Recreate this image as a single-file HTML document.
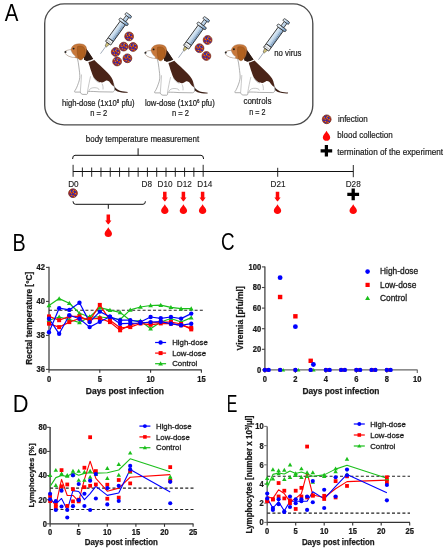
<!DOCTYPE html>
<html><head><meta charset="utf-8"><style>
html,body{margin:0;padding:0;background:#fff;}
svg{display:block;}
</style></head><body>
<svg width="445" height="550" viewBox="0 0 445 550">
<rect width="445" height="550" fill="#fff"/>
<defs><g id="vir">
<circle r="4.4" fill="#b82a1e" stroke="#6a2a18" stroke-width="0.7"/>
<circle cx="-1.5" cy="-2.1" r="1.1" fill="#2a2ab8"/><circle cx="1.9" cy="-1.3" r="1.1" fill="#2a2ab8"/>
<circle cx="-0.1" cy="1.1" r="1.1" fill="#2a2ab8"/><circle cx="-2.7" cy="0.9" r="0.9" fill="#2a2ab8"/>
<circle cx="2.4" cy="2.1" r="0.9" fill="#2a2ab8"/><circle cx="0.3" cy="-3.5" r="0.7" fill="#2a2ab8"/>
<circle cx="-1.3" cy="3.2" r="0.8" fill="#2a2ab8"/>
<path d="M-0.4 -1.7 l1.3 1 M-2.4 -0.7 l1 1 M0.9 2.6 l1 1 M2.1 0.2 l1.2 0.6 M-3 -2.4 l0.9 0.7 M0.2 -2.6 l1 -0.6 M-0.6 2.4 l-1 -0.2 M3 -2 l-0.6 -0.6" stroke="#dcaa2a" stroke-width="0.95"/>
</g><linearGradient id="sg" x1="0" y1="-3.2" x2="0" y2="3.2" gradientUnits="userSpaceOnUse"><stop offset="0" stop-color="#e6f0f8"/><stop offset="0.45" stop-color="#c4d9ec"/><stop offset="1" stop-color="#7fa3c8"/></linearGradient>
<g id="syr">
<line x1="0" y1="0" x2="9.5" y2="0" stroke="#8f9cad" stroke-width="0.75"/>
<path d="M9 -0.8 L13 -1.7 L13 1.7 L9 0.8 Z" fill="#d6c77a" stroke="#444" stroke-width="0.5"/>
<rect x="13" y="-3.2" width="4.5" height="6.4" fill="#eef1f4" stroke="#222" stroke-width="0.8"/>
<line x1="14.8" y1="-3" x2="14.8" y2="3" stroke="#888" stroke-width="0.5"/>
<rect x="17.5" y="-3.2" width="20.5" height="6.4" fill="url(#sg)" stroke="#222" stroke-width="0.8"/>
<path d="M20 3 v-1.8 M22 3 v-1.8 M24 3 v-1.8 M26 3 v-1.8 M28 3 v-1.8 M30 3 v-1.8 M32 3 v-1.8 M34 3 v-1.8" stroke="#556677" stroke-width="0.45"/>
<rect x="38" y="-5.3" width="2.7" height="10.6" rx="1.2" fill="url(#sg)" stroke="#222" stroke-width="0.7"/>
<rect x="40.7" y="-1.7" width="5.5" height="3.4" fill="url(#sg)" stroke="#222" stroke-width="0.7"/>
<rect x="46" y="-3.5" width="2.6" height="7" rx="1.1" fill="url(#sg)" stroke="#222" stroke-width="0.7"/>
</g><g id="dog">
<path d="M112.6 83 C114.5 87 116.5 89.5 120 90.8 C123 91.6 125.5 91.5 127.8 92 L127.5 92.8 C124 92.9 120.5 92.6 117.5 91.5 C114.5 90 112.5 88 111.5 85.5 Z" fill="#3a1e14"/>
<path d="M77.2 57.5 C78 61 78.7 64 78.9 67 C79.4 71 80 75 79.8 77.4 C79.5 80 78.8 82 78.2 83.6 C77.4 86 76.3 88.5 75.4 90 C74.6 90.8 74.3 91.6 74.8 92.1 L80.3 92.1 C80.8 93.5 81.5 94.3 83 94.4 L86.8 94.4 C87.6 94 87.8 93 87.5 92 L88.5 91.5 C91 91.3 95 91.5 99 91.8 L112.5 92 C114 91.8 114.8 90.6 114.6 89 C114.5 87 114.2 85.5 113.6 83.7 L88 56 C85 57 81 57.8 77.2 57.5 Z" fill="#fff" stroke="#8c8c8c" stroke-width="0.7"/>
<path d="M84.5 46.8 C87 49.5 89.5 53.5 92.8 58.5 C96 62 99.7 64.9 103 68.3 C106.6 71.8 109.5 74.5 111.6 77.7 C113 80 113.6 82 114 86.5 C112.5 86 111 84 109.2 81.5 C108 80.6 107 80.3 106.1 80.5 C104.5 81.5 103.5 82.4 102 82.5 C100 82.4 99 82 97.9 81.5 C96 80 94.7 78.7 93.7 77.4 C92.8 75.5 92 74 91.6 72.2 C90.8 70 90 68 89.6 66 C89 64.5 88.5 63 88.3 61.5 C86.5 60.5 85 60 84 59.8 Z" fill="#4a2418"/>
<path d="M84.5 46.8 C87 49.5 89.5 53.5 93.2 59 L87.8 61.3 C86 60.8 84.8 60 84 59.5 C84 55 84 51 84.5 46.8 Z" fill="#2e1a12"/>
<path d="M87.3 61.7 Q90.5 61.2 94 59.4" fill="none" stroke="#fff" stroke-width="1.3"/>
<path d="M81.5 74.5 C81.2 80 80.8 86 80.3 92 M90.6 76.3 C89.5 81 88.3 86.5 87.5 91.9 M88.8 91 C89.5 88.5 92 87.5 95 87.7 C97.5 87.9 99 88.5 99 89.8 M93.7 77.4 C95 80 97 82 99.5 82.6 M102 83.6 C103 85.5 103.2 87.5 103 89.5" fill="none" stroke="#9a9a9a" stroke-width="0.55"/>
<path d="M65 51.6 C66 50.5 68.5 49.9 71 49.7 C71.4 47.6 72.5 45.8 74.5 44.8 C77 43.6 80.5 43.5 83 44.3 C85 45 86.3 46.5 86.5 48.5 C86.6 51.5 85.8 55 84.5 57 L80 58.5 C78 58.3 76 57.8 74 57.3 C71 57.2 68.5 56.2 66.5 54.8 C65.5 53.8 64.8 52.8 65 51.6 Z" fill="#c8783a" stroke="#8a5228" stroke-width="0.35"/>
<path d="M65 51.6 C66 50.6 68.5 50 70.8 49.8 C71.6 52.2 72.8 54.4 75.2 56 C75.6 56.8 75 57.4 74 57.4 C71 57.3 68.5 56.2 66.5 54.8 C65.5 53.8 64.8 52.8 65 51.6 Z" fill="#fff" stroke="#a0a0a0" stroke-width="0.4"/>
<path d="M77.6 46.4 C80.5 45.6 84 46.2 84.9 49.6 C85.5 53 84.5 57 82.4 59.3 C81 60.5 79.3 60.3 78.4 58.6 C77.5 55.8 77.2 52.3 77.2 49.3 Z" fill="#b0611f" stroke="#7a4418" stroke-width="0.35"/>
<circle cx="65.5" cy="52" r="1.0" fill="#222"/>
<circle cx="73.6" cy="48.6" r="0.95" fill="#1a1a1a"/>
</g><path id="drop" d="M0 -5 C1 -2.5 3.5 -0.8 3.5 1.6 C3.5 3.6 1.9 5 0 5 C-1.9 5 -3.5 3.6 -3.5 1.6 C-3.5 -0.8 -1 -2.5 0 -5 Z" fill="#ff0808"/><path id="arr" d="M-1.75 -4.85 H1.75 V1.1 H3.1 L0.4 4.85 H-0.4 L-3.1 1.1 H-1.75 Z" fill="#ff0808"/><path id="plus" d="M-1.65 -5.8 H1.65 V-1.65 H5.9 V1.65 H1.65 V5.8 H-1.65 V1.65 H-5.9 V-1.65 H-1.65 Z" fill="#000"/></defs>
<text x="0" y="0" transform="translate(4.7,21.0) scale(0.87,1)" font-family='"Liberation Sans", Arial, sans-serif' font-size="23.5" fill="#000">A</text>
<rect x="44.7" y="3.9" width="268.1" height="120.9" rx="19.5" ry="19.5" fill="none" stroke="#4a4a4a" stroke-width="1.35"/>
<use href="#dog"/>
<use href="#dog" transform="translate(80,0.8)"/>
<use href="#dog" transform="translate(160.3,0.6)"/>
<use href="#syr" transform="translate(100.5,53.7) rotate(-54)"/>
<use href="#syr" transform="translate(178.5,57.7) rotate(-54)"/>
<use href="#syr" transform="translate(258.5,59.7) rotate(-54)"/>
<use href="#vir" transform="translate(129.1,36.4)"/>
<use href="#vir" transform="translate(123.7,46.6)"/>
<use href="#vir" transform="translate(133.1,47)"/>
<use href="#vir" transform="translate(115.7,52)"/>
<use href="#vir" transform="translate(127.4,58.3)"/>
<use href="#vir" transform="translate(117.1,61.5)"/>
<use href="#vir" transform="translate(207.6,40)"/>
<use href="#vir" transform="translate(199.5,48.2)"/>
<use href="#vir" transform="translate(206.4,56)"/>
<text x="62.0" y="105.8" font-size="8.8" text-anchor="start" font-family='"Liberation Sans", Arial, sans-serif' fill="#1a1a1a" stroke="#1a1a1a" stroke-width="0.2" textLength="72.6" lengthAdjust="spacingAndGlyphs" >high-dose (1x10<tspan font-size="5" dy="-3">8</tspan><tspan dy="3"> pfu)</tspan></text>
<text x="90.2" y="115.9" font-size="8.8" text-anchor="start" font-family='"Liberation Sans", Arial, sans-serif' fill="#1a1a1a" stroke="#1a1a1a" stroke-width="0.2" textLength="17.0" lengthAdjust="spacingAndGlyphs" >n = 2</text>
<text x="144.9" y="105.9" font-size="8.8" text-anchor="start" font-family='"Liberation Sans", Arial, sans-serif' fill="#1a1a1a" stroke="#1a1a1a" stroke-width="0.2" textLength="69.8" lengthAdjust="spacingAndGlyphs" >low-dose (1x10<tspan font-size="5" dy="-3">6</tspan><tspan dy="3"> pfu)</tspan></text>
<text x="172.0" y="116.1" font-size="8.8" text-anchor="start" font-family='"Liberation Sans", Arial, sans-serif' fill="#1a1a1a" stroke="#1a1a1a" stroke-width="0.2" textLength="17.0" lengthAdjust="spacingAndGlyphs" >n = 2</text>
<text x="243.4" y="104.3" font-size="8.8" text-anchor="start" font-family='"Liberation Sans", Arial, sans-serif' fill="#1a1a1a" stroke="#1a1a1a" stroke-width="0.2" textLength="28.0" lengthAdjust="spacingAndGlyphs" >controls</text>
<text x="249.3" y="114.5" font-size="8.8" text-anchor="start" font-family='"Liberation Sans", Arial, sans-serif' fill="#1a1a1a" stroke="#1a1a1a" stroke-width="0.2" textLength="16.2" lengthAdjust="spacingAndGlyphs" >n = 2</text>
<text x="274.3" y="56.3" font-size="8.8" text-anchor="start" font-family='"Liberation Sans", Arial, sans-serif' fill="#1a1a1a" stroke="#1a1a1a" stroke-width="0.2" textLength="27.2" lengthAdjust="spacingAndGlyphs" >no virus</text>
<use href="#vir" transform="translate(326.7,119.3)"/>
<text x="337.9" y="121.7" font-size="8.8" text-anchor="start" font-family='"Liberation Sans", Arial, sans-serif' fill="#1a1a1a" stroke="#1a1a1a" stroke-width="0.2" textLength="29.9" lengthAdjust="spacingAndGlyphs" >infection</text>
<use href="#drop" transform="translate(326.5,135.8) scale(1.06,1.0)"/>
<text x="337.3" y="138.3" font-size="8.8" text-anchor="start" font-family='"Liberation Sans", Arial, sans-serif' fill="#1a1a1a" stroke="#1a1a1a" stroke-width="0.2" textLength="55.4" lengthAdjust="spacingAndGlyphs" >blood collection</text>
<use href="#plus" transform="translate(326.4,150.8) scale(0.98)"/>
<text x="337.3" y="154.8" font-size="8.8" text-anchor="start" font-family='"Liberation Sans", Arial, sans-serif' fill="#1a1a1a" stroke="#1a1a1a" stroke-width="0.2" textLength="105.8" lengthAdjust="spacingAndGlyphs" >termination of the experiment</text>
<text x="85.8" y="142.4" font-size="8.9" text-anchor="start" font-family='"Liberation Sans", Arial, sans-serif' fill="#1a1a1a" stroke="#1a1a1a" stroke-width="0.2" textLength="113.3" lengthAdjust="spacingAndGlyphs" >body temperature measurement</text>
<path d="M72.6 159 Q72.6 155.3 75 155.3 H201 Q203.6 155.3 203.6 159 M138.1 155.3 V148.3" fill="none" stroke="#111" stroke-width="1"/>
<line x1="73.1" y1="171.4" x2="353.3" y2="171.4" stroke="#111" stroke-width="1.05"/>
<path d="M73.10 164.8 V176.8 M82.39 167.5 V176.8 M91.68 167.5 V176.8 M100.97 167.5 V176.8 M110.26 167.5 V176.8 M119.55 167.5 V176.8 M128.84 167.5 V176.8 M138.13 167.5 V176.8 M147.42 167.5 V176.8 M156.71 167.5 V176.8 M166.00 167.5 V176.8 M175.29 167.5 V176.8 M184.58 167.5 V176.8 M193.87 167.5 V176.8 M203.16 164.8 V176.8 M277.7 167.8 V176.8 M353.3 165.0 V177.2" stroke="#111" stroke-width="0.9" fill="none"/>
<text x="73.4" y="186.8" font-size="8.2" text-anchor="middle" font-family='"Liberation Sans", Arial, sans-serif' fill="#1a1a1a" stroke="#1a1a1a" stroke-width="0.12" >D0</text>
<text x="146.8" y="186.8" font-size="8.2" text-anchor="middle" font-family='"Liberation Sans", Arial, sans-serif' fill="#1a1a1a" stroke="#1a1a1a" stroke-width="0.12" >D8</text>
<text x="165" y="186.8" font-size="8.2" text-anchor="middle" font-family='"Liberation Sans", Arial, sans-serif' fill="#1a1a1a" stroke="#1a1a1a" stroke-width="0.12" >D10</text>
<text x="184.3" y="186.8" font-size="8.2" text-anchor="middle" font-family='"Liberation Sans", Arial, sans-serif' fill="#1a1a1a" stroke="#1a1a1a" stroke-width="0.12" >D12</text>
<text x="204.8" y="186.8" font-size="8.2" text-anchor="middle" font-family='"Liberation Sans", Arial, sans-serif' fill="#1a1a1a" stroke="#1a1a1a" stroke-width="0.12" >D14</text>
<text x="278" y="186.8" font-size="8.2" text-anchor="middle" font-family='"Liberation Sans", Arial, sans-serif' fill="#1a1a1a" stroke="#1a1a1a" stroke-width="0.12" >D21</text>
<text x="353.2" y="186.8" font-size="8.2" text-anchor="middle" font-family='"Liberation Sans", Arial, sans-serif' fill="#1a1a1a" stroke="#1a1a1a" stroke-width="0.12" >D28</text>
<use href="#vir" transform="translate(73,193.2)"/>
<path d="M73 201.3 Q73 204.3 75.5 204.3 H143 Q145.4 204.3 145.4 201.3 M108.3 204.3 V208.8" fill="none" stroke="#111" stroke-width="1"/>
<use href="#arr" transform="translate(108.3,219.3)"/>
<use href="#drop" transform="translate(108.3,232.2) scale(1.06,0.98)"/>
<use href="#arr" transform="translate(164.8,196.5)"/>
<use href="#drop" transform="translate(164.8,209.1) scale(1.06,0.96)"/>
<use href="#arr" transform="translate(183.4,196.5)"/>
<use href="#drop" transform="translate(183.4,209.1) scale(1.06,0.96)"/>
<use href="#arr" transform="translate(202.6,196.5)"/>
<use href="#drop" transform="translate(202.6,209.1) scale(1.06,0.96)"/>
<use href="#arr" transform="translate(277.5,196.5)"/>
<use href="#drop" transform="translate(277.5,209.1) scale(1.06,0.96)"/>
<use href="#plus" transform="translate(353.2,194.4)"/>
<use href="#drop" transform="translate(353.2,209.1) scale(1.06,0.96)"/>
<text x="0" y="0" transform="translate(12.5,251.0) scale(0.86,1)" font-family='"Liberation Sans", Arial, sans-serif' font-size="23" fill="#000">B</text>
<line x1="49.0" y1="266.8" x2="49.0" y2="369.8" stroke="#444" stroke-width="1.3"/>
<line x1="46.0" y1="267.40" x2="49.0" y2="267.40" stroke="#444" stroke-width="1.1"/>
<text x="0" y="0" transform="translate(45.00,270.30) scale(0.9,1)" font-size="8.4" font-weight="bold" text-anchor="end" font-family='"Liberation Sans", Arial, sans-serif' fill="#1a1a1a" stroke="#1a1a1a" stroke-width="0.25" >42</text>
<line x1="46.0" y1="301.40" x2="49.0" y2="301.40" stroke="#444" stroke-width="1.1"/>
<text x="0" y="0" transform="translate(45.00,304.30) scale(0.9,1)" font-size="8.4" font-weight="bold" text-anchor="end" font-family='"Liberation Sans", Arial, sans-serif' fill="#1a1a1a" stroke="#1a1a1a" stroke-width="0.25" >40</text>
<line x1="46.0" y1="335.40" x2="49.0" y2="335.40" stroke="#444" stroke-width="1.1"/>
<text x="0" y="0" transform="translate(45.00,338.30) scale(0.9,1)" font-size="8.4" font-weight="bold" text-anchor="end" font-family='"Liberation Sans", Arial, sans-serif' fill="#1a1a1a" stroke="#1a1a1a" stroke-width="0.25" >38</text>
<line x1="46.0" y1="369.40" x2="49.0" y2="369.40" stroke="#444" stroke-width="1.1"/>
<text x="0" y="0" transform="translate(45.00,372.30) scale(0.9,1)" font-size="8.4" font-weight="bold" text-anchor="end" font-family='"Liberation Sans", Arial, sans-serif' fill="#1a1a1a" stroke="#1a1a1a" stroke-width="0.25" >36</text>
<line x1="49.0" y1="369.8" x2="201.6" y2="369.8" stroke="#333" stroke-width="1.3"/>
<line x1="49.00" y1="369.8" x2="49.00" y2="372.8" stroke="#333" stroke-width="1.1"/>
<text x="0" y="0" transform="translate(49.00,382.20) scale(0.9,1)" font-size="8.4" font-weight="bold" text-anchor="middle" font-family='"Liberation Sans", Arial, sans-serif' fill="#1a1a1a" stroke="#1a1a1a" stroke-width="0.25" >0</text>
<line x1="99.80" y1="369.8" x2="99.80" y2="372.8" stroke="#333" stroke-width="1.1"/>
<text x="0" y="0" transform="translate(99.80,382.20) scale(0.9,1)" font-size="8.4" font-weight="bold" text-anchor="middle" font-family='"Liberation Sans", Arial, sans-serif' fill="#1a1a1a" stroke="#1a1a1a" stroke-width="0.25" >5</text>
<line x1="150.60" y1="369.8" x2="150.60" y2="372.8" stroke="#333" stroke-width="1.1"/>
<text x="0" y="0" transform="translate(150.60,382.20) scale(0.9,1)" font-size="8.4" font-weight="bold" text-anchor="middle" font-family='"Liberation Sans", Arial, sans-serif' fill="#1a1a1a" stroke="#1a1a1a" stroke-width="0.25" >10</text>
<line x1="201.40" y1="369.8" x2="201.40" y2="372.8" stroke="#333" stroke-width="1.1"/>
<text x="0" y="0" transform="translate(201.40,382.20) scale(0.9,1)" font-size="8.4" font-weight="bold" text-anchor="middle" font-family='"Liberation Sans", Arial, sans-serif' fill="#1a1a1a" stroke="#1a1a1a" stroke-width="0.25" >15</text>
<line x1="49.0" y1="310.2" x2="203" y2="310.2" stroke="#222" stroke-width="1.1" stroke-dasharray="3,2.2"/>
<polyline points="49.00,305.40 59.16,298.60 69.32,303.20 79.48,313.30 89.64,317.00 99.80,307.60 109.96,310.10 120.12,312.40 130.28,320.50 140.44,320.80 150.60,328.80 160.76,322.00 170.92,318.50 181.08,322.00 191.24,317.60" fill="none" stroke="#1bbf1b" stroke-width="1.2" stroke-linejoin="round"/>
<polyline points="49.00,320.20 59.16,317.00 69.32,319.60 79.48,322.50 89.64,317.00 99.80,317.00 109.96,318.00 120.12,319.50 130.28,309.90 140.44,307.00 150.60,305.50 160.76,305.10 170.92,307.30 181.08,308.60 191.24,308.60" fill="none" stroke="#1bbf1b" stroke-width="1.2" stroke-linejoin="round"/>
<polyline points="49.00,316.40 59.16,320.20 69.32,316.40 79.48,316.40 89.64,320.80 99.80,304.90 109.96,320.20 120.12,327.80 130.28,327.10 140.44,323.50 150.60,324.80 160.76,323.40 170.92,323.70 181.08,325.30 191.24,327.80" fill="none" stroke="#ff0000" stroke-width="1.2" stroke-linejoin="round"/>
<polyline points="49.00,323.70 59.16,327.10 69.32,322.10 79.48,318.50 89.64,319.00 99.80,318.30 109.96,322.10 120.12,330.30 130.28,325.00 140.44,322.50 150.60,323.00 160.76,322.00 170.92,322.00 181.08,324.00 191.24,329.40" fill="none" stroke="#ff0000" stroke-width="1.2" stroke-linejoin="round"/>
<polyline points="49.00,332.20 59.16,308.20 69.32,309.90 79.48,302.80 89.64,322.10 99.80,311.60 109.96,316.70 120.12,320.20 130.28,320.20 140.44,322.00 150.60,317.00 160.76,318.30 170.92,317.00 181.08,318.60 191.24,313.60" fill="none" stroke="#0000ff" stroke-width="1.2" stroke-linejoin="round"/>
<polyline points="49.00,318.70 59.16,333.80 69.32,315.20 79.48,318.70 89.64,327.10 99.80,321.70 109.96,316.70 120.12,323.70 130.28,323.40 140.44,323.00 150.60,322.10 160.76,321.70 170.92,323.70 181.08,325.30 191.24,323.70" fill="none" stroke="#0000ff" stroke-width="1.2" stroke-linejoin="round"/>
<path d="M49.00 303.02 L51.38 307.18 L46.62 307.18 Z" fill="#1bbf1b"/>
<path d="M59.16 296.23 L61.53 300.38 L56.78 300.38 Z" fill="#1bbf1b"/>
<path d="M69.32 300.82 L71.69 304.98 L66.94 304.98 Z" fill="#1bbf1b"/>
<path d="M79.48 310.93 L81.86 315.08 L77.11 315.08 Z" fill="#1bbf1b"/>
<path d="M89.64 314.62 L92.02 318.78 L87.27 318.78 Z" fill="#1bbf1b"/>
<path d="M99.80 305.23 L102.17 309.38 L97.42 309.38 Z" fill="#1bbf1b"/>
<path d="M109.96 307.73 L112.34 311.88 L107.59 311.88 Z" fill="#1bbf1b"/>
<path d="M120.12 310.02 L122.50 314.18 L117.75 314.18 Z" fill="#1bbf1b"/>
<path d="M130.28 318.12 L132.66 322.28 L127.91 322.28 Z" fill="#1bbf1b"/>
<path d="M140.44 318.43 L142.81 322.58 L138.06 322.58 Z" fill="#1bbf1b"/>
<path d="M150.60 326.43 L152.97 330.58 L148.22 330.58 Z" fill="#1bbf1b"/>
<path d="M160.76 319.62 L163.13 323.78 L158.38 323.78 Z" fill="#1bbf1b"/>
<path d="M170.92 316.12 L173.30 320.28 L168.55 320.28 Z" fill="#1bbf1b"/>
<path d="M181.08 319.62 L183.46 323.78 L178.71 323.78 Z" fill="#1bbf1b"/>
<path d="M191.24 315.23 L193.62 319.38 L188.87 319.38 Z" fill="#1bbf1b"/>
<path d="M49.00 317.82 L51.38 321.98 L46.62 321.98 Z" fill="#1bbf1b"/>
<path d="M59.16 314.62 L61.53 318.78 L56.78 318.78 Z" fill="#1bbf1b"/>
<path d="M69.32 317.23 L71.69 321.38 L66.94 321.38 Z" fill="#1bbf1b"/>
<path d="M79.48 320.12 L81.86 324.28 L77.11 324.28 Z" fill="#1bbf1b"/>
<path d="M89.64 314.62 L92.02 318.78 L87.27 318.78 Z" fill="#1bbf1b"/>
<path d="M99.80 314.62 L102.17 318.78 L97.42 318.78 Z" fill="#1bbf1b"/>
<path d="M109.96 315.62 L112.34 319.78 L107.59 319.78 Z" fill="#1bbf1b"/>
<path d="M120.12 317.12 L122.50 321.28 L117.75 321.28 Z" fill="#1bbf1b"/>
<path d="M130.28 307.52 L132.66 311.68 L127.91 311.68 Z" fill="#1bbf1b"/>
<path d="M140.44 304.62 L142.81 308.78 L138.06 308.78 Z" fill="#1bbf1b"/>
<path d="M150.60 303.12 L152.97 307.28 L148.22 307.28 Z" fill="#1bbf1b"/>
<path d="M160.76 302.73 L163.13 306.88 L158.38 306.88 Z" fill="#1bbf1b"/>
<path d="M170.92 304.93 L173.30 309.08 L168.55 309.08 Z" fill="#1bbf1b"/>
<path d="M181.08 306.23 L183.46 310.38 L178.71 310.38 Z" fill="#1bbf1b"/>
<path d="M191.24 306.23 L193.62 310.38 L188.87 310.38 Z" fill="#1bbf1b"/>
<rect x="47.01" y="314.40" width="3.99" height="3.99" fill="#ff0000"/>
<rect x="57.16" y="318.20" width="3.99" height="3.99" fill="#ff0000"/>
<rect x="67.32" y="314.40" width="3.99" height="3.99" fill="#ff0000"/>
<rect x="77.48" y="314.40" width="3.99" height="3.99" fill="#ff0000"/>
<rect x="87.64" y="318.81" width="3.99" height="3.99" fill="#ff0000"/>
<rect x="97.80" y="302.90" width="3.99" height="3.99" fill="#ff0000"/>
<rect x="107.97" y="318.20" width="3.99" height="3.99" fill="#ff0000"/>
<rect x="118.12" y="325.81" width="3.99" height="3.99" fill="#ff0000"/>
<rect x="128.28" y="325.11" width="3.99" height="3.99" fill="#ff0000"/>
<rect x="138.44" y="321.50" width="3.99" height="3.99" fill="#ff0000"/>
<rect x="148.60" y="322.81" width="3.99" height="3.99" fill="#ff0000"/>
<rect x="158.76" y="321.40" width="3.99" height="3.99" fill="#ff0000"/>
<rect x="168.93" y="321.70" width="3.99" height="3.99" fill="#ff0000"/>
<rect x="179.09" y="323.31" width="3.99" height="3.99" fill="#ff0000"/>
<rect x="189.25" y="325.81" width="3.99" height="3.99" fill="#ff0000"/>
<rect x="47.01" y="321.70" width="3.99" height="3.99" fill="#ff0000"/>
<rect x="57.16" y="325.11" width="3.99" height="3.99" fill="#ff0000"/>
<rect x="67.32" y="320.11" width="3.99" height="3.99" fill="#ff0000"/>
<rect x="77.48" y="316.50" width="3.99" height="3.99" fill="#ff0000"/>
<rect x="87.64" y="317.00" width="3.99" height="3.99" fill="#ff0000"/>
<rect x="97.80" y="316.31" width="3.99" height="3.99" fill="#ff0000"/>
<rect x="107.97" y="320.11" width="3.99" height="3.99" fill="#ff0000"/>
<rect x="118.12" y="328.31" width="3.99" height="3.99" fill="#ff0000"/>
<rect x="128.28" y="323.00" width="3.99" height="3.99" fill="#ff0000"/>
<rect x="138.44" y="320.50" width="3.99" height="3.99" fill="#ff0000"/>
<rect x="148.60" y="321.00" width="3.99" height="3.99" fill="#ff0000"/>
<rect x="158.76" y="320.00" width="3.99" height="3.99" fill="#ff0000"/>
<rect x="168.93" y="320.00" width="3.99" height="3.99" fill="#ff0000"/>
<rect x="179.09" y="322.00" width="3.99" height="3.99" fill="#ff0000"/>
<rect x="189.25" y="327.40" width="3.99" height="3.99" fill="#ff0000"/>
<circle cx="49.00" cy="332.20" r="2.18" fill="#0000ff"/>
<circle cx="59.16" cy="308.20" r="2.18" fill="#0000ff"/>
<circle cx="69.32" cy="309.90" r="2.18" fill="#0000ff"/>
<circle cx="79.48" cy="302.80" r="2.18" fill="#0000ff"/>
<circle cx="89.64" cy="322.10" r="2.18" fill="#0000ff"/>
<circle cx="99.80" cy="311.60" r="2.18" fill="#0000ff"/>
<circle cx="109.96" cy="316.70" r="2.18" fill="#0000ff"/>
<circle cx="120.12" cy="320.20" r="2.18" fill="#0000ff"/>
<circle cx="130.28" cy="320.20" r="2.18" fill="#0000ff"/>
<circle cx="140.44" cy="322.00" r="2.18" fill="#0000ff"/>
<circle cx="150.60" cy="317.00" r="2.18" fill="#0000ff"/>
<circle cx="160.76" cy="318.30" r="2.18" fill="#0000ff"/>
<circle cx="170.92" cy="317.00" r="2.18" fill="#0000ff"/>
<circle cx="181.08" cy="318.60" r="2.18" fill="#0000ff"/>
<circle cx="191.24" cy="313.60" r="2.18" fill="#0000ff"/>
<circle cx="49.00" cy="318.70" r="2.18" fill="#0000ff"/>
<circle cx="59.16" cy="333.80" r="2.18" fill="#0000ff"/>
<circle cx="69.32" cy="315.20" r="2.18" fill="#0000ff"/>
<circle cx="79.48" cy="318.70" r="2.18" fill="#0000ff"/>
<circle cx="89.64" cy="327.10" r="2.18" fill="#0000ff"/>
<circle cx="99.80" cy="321.70" r="2.18" fill="#0000ff"/>
<circle cx="109.96" cy="316.70" r="2.18" fill="#0000ff"/>
<circle cx="120.12" cy="323.70" r="2.18" fill="#0000ff"/>
<circle cx="130.28" cy="323.40" r="2.18" fill="#0000ff"/>
<circle cx="140.44" cy="323.00" r="2.18" fill="#0000ff"/>
<circle cx="150.60" cy="322.10" r="2.18" fill="#0000ff"/>
<circle cx="160.76" cy="321.70" r="2.18" fill="#0000ff"/>
<circle cx="170.92" cy="323.70" r="2.18" fill="#0000ff"/>
<circle cx="181.08" cy="325.30" r="2.18" fill="#0000ff"/>
<circle cx="191.24" cy="323.70" r="2.18" fill="#0000ff"/>
<text x="85.80" y="394.00" font-size="8.5" font-weight="bold" text-anchor="start" font-family='"Liberation Sans", Arial, sans-serif' fill="#1a1a1a" stroke="#1a1a1a" stroke-width="0.25" textLength="78.2" lengthAdjust="spacingAndGlyphs">Days post infection</text>
<text x="0.00" y="0.00" font-size="8.4" font-weight="bold" text-anchor="middle" font-family='"Liberation Sans", Arial, sans-serif' fill="#1a1a1a" stroke="#1a1a1a" stroke-width="0.25" transform="translate(32.0,318.2) rotate(-90)" textLength="93.0" lengthAdjust="spacingAndGlyphs">Rectal temperature [°C]</text>
<line x1="155.10" y1="342.50" x2="166.10" y2="342.50" stroke="#0000ff" stroke-width="1.2"/>
<circle cx="160.60" cy="342.50" r="2.18" fill="#0000ff"/>
<text x="172.20" y="345.10" font-size="7.8" font-weight="normal" text-anchor="start" font-family='"Liberation Sans", Arial, sans-serif' fill="#1a1a1a" stroke="#1a1a1a" stroke-width="0.28" >High-dose</text>
<line x1="155.10" y1="353.10" x2="166.10" y2="353.10" stroke="#ff0000" stroke-width="1.2"/>
<rect x="158.60" y="351.11" width="3.99" height="3.99" fill="#ff0000"/>
<text x="172.20" y="355.70" font-size="7.8" font-weight="normal" text-anchor="start" font-family='"Liberation Sans", Arial, sans-serif' fill="#1a1a1a" stroke="#1a1a1a" stroke-width="0.28" >Low-dose</text>
<line x1="155.10" y1="363.70" x2="166.10" y2="363.70" stroke="#1bbf1b" stroke-width="1.2"/>
<path d="M160.60 361.32 L162.97 365.48 L158.22 365.48 Z" fill="#1bbf1b"/>
<text x="172.20" y="366.30" font-size="7.8" font-weight="normal" text-anchor="start" font-family='"Liberation Sans", Arial, sans-serif' fill="#1a1a1a" stroke="#1a1a1a" stroke-width="0.28" >Control</text>
<text x="0" y="0" transform="translate(220.9,250.3) scale(0.8,1)" font-family='"Liberation Sans", Arial, sans-serif' font-size="23.5" fill="#000">C</text>
<line x1="264.9" y1="266.4" x2="264.9" y2="369.9" stroke="#444" stroke-width="1.3"/>
<line x1="261.9" y1="266.90" x2="264.9" y2="266.90" stroke="#444" stroke-width="1.1"/>
<text x="0" y="0" transform="translate(261.20,269.80) scale(0.9,1)" font-size="8.4" font-weight="bold" text-anchor="end" font-family='"Liberation Sans", Arial, sans-serif' fill="#1a1a1a" stroke="#1a1a1a" stroke-width="0.25" >100</text>
<line x1="261.9" y1="287.50" x2="264.9" y2="287.50" stroke="#444" stroke-width="1.1"/>
<text x="0" y="0" transform="translate(261.20,290.40) scale(0.9,1)" font-size="8.4" font-weight="bold" text-anchor="end" font-family='"Liberation Sans", Arial, sans-serif' fill="#1a1a1a" stroke="#1a1a1a" stroke-width="0.25" >80</text>
<line x1="261.9" y1="308.10" x2="264.9" y2="308.10" stroke="#444" stroke-width="1.1"/>
<text x="0" y="0" transform="translate(261.20,311.00) scale(0.9,1)" font-size="8.4" font-weight="bold" text-anchor="end" font-family='"Liberation Sans", Arial, sans-serif' fill="#1a1a1a" stroke="#1a1a1a" stroke-width="0.25" >60</text>
<line x1="261.9" y1="328.70" x2="264.9" y2="328.70" stroke="#444" stroke-width="1.1"/>
<text x="0" y="0" transform="translate(261.20,331.60) scale(0.9,1)" font-size="8.4" font-weight="bold" text-anchor="end" font-family='"Liberation Sans", Arial, sans-serif' fill="#1a1a1a" stroke="#1a1a1a" stroke-width="0.25" >40</text>
<line x1="261.9" y1="349.30" x2="264.9" y2="349.30" stroke="#444" stroke-width="1.1"/>
<text x="0" y="0" transform="translate(261.20,352.20) scale(0.9,1)" font-size="8.4" font-weight="bold" text-anchor="end" font-family='"Liberation Sans", Arial, sans-serif' fill="#1a1a1a" stroke="#1a1a1a" stroke-width="0.25" >20</text>
<line x1="261.9" y1="369.90" x2="264.9" y2="369.90" stroke="#444" stroke-width="1.1"/>
<text x="0" y="0" transform="translate(261.20,372.80) scale(0.9,1)" font-size="8.4" font-weight="bold" text-anchor="end" font-family='"Liberation Sans", Arial, sans-serif' fill="#1a1a1a" stroke="#1a1a1a" stroke-width="0.25" >0</text>
<line x1="264.9" y1="369.9" x2="417.6" y2="369.9" stroke="#666" stroke-width="1.3"/>
<line x1="264.90" y1="369.9" x2="264.90" y2="372.9" stroke="#666" stroke-width="1.1"/>
<text x="0" y="0" transform="translate(264.90,381.80) scale(0.9,1)" font-size="8.4" font-weight="bold" text-anchor="middle" font-family='"Liberation Sans", Arial, sans-serif' fill="#1a1a1a" stroke="#1a1a1a" stroke-width="0.25" >0</text>
<line x1="295.38" y1="369.9" x2="295.38" y2="372.9" stroke="#666" stroke-width="1.1"/>
<text x="0" y="0" transform="translate(295.38,381.80) scale(0.9,1)" font-size="8.4" font-weight="bold" text-anchor="middle" font-family='"Liberation Sans", Arial, sans-serif' fill="#1a1a1a" stroke="#1a1a1a" stroke-width="0.25" >2</text>
<line x1="325.86" y1="369.9" x2="325.86" y2="372.9" stroke="#666" stroke-width="1.1"/>
<text x="0" y="0" transform="translate(325.86,381.80) scale(0.9,1)" font-size="8.4" font-weight="bold" text-anchor="middle" font-family='"Liberation Sans", Arial, sans-serif' fill="#1a1a1a" stroke="#1a1a1a" stroke-width="0.25" >4</text>
<line x1="356.34" y1="369.9" x2="356.34" y2="372.9" stroke="#666" stroke-width="1.1"/>
<text x="0" y="0" transform="translate(356.34,381.80) scale(0.9,1)" font-size="8.4" font-weight="bold" text-anchor="middle" font-family='"Liberation Sans", Arial, sans-serif' fill="#1a1a1a" stroke="#1a1a1a" stroke-width="0.25" >6</text>
<line x1="386.82" y1="369.9" x2="386.82" y2="372.9" stroke="#666" stroke-width="1.1"/>
<text x="0" y="0" transform="translate(386.82,381.80) scale(0.9,1)" font-size="8.4" font-weight="bold" text-anchor="middle" font-family='"Liberation Sans", Arial, sans-serif' fill="#1a1a1a" stroke="#1a1a1a" stroke-width="0.25" >8</text>
<line x1="417.30" y1="369.9" x2="417.30" y2="372.9" stroke="#666" stroke-width="1.1"/>
<text x="0" y="0" transform="translate(417.30,381.80) scale(0.9,1)" font-size="8.4" font-weight="bold" text-anchor="middle" font-family='"Liberation Sans", Arial, sans-serif' fill="#1a1a1a" stroke="#1a1a1a" stroke-width="0.25" >10</text>
<path d="M283.19 367.90 L285.19 371.40 L281.19 371.40 Z" fill="#1bbf1b"/>
<path d="M298.43 367.90 L300.43 371.40 L296.43 371.40 Z" fill="#1bbf1b"/>
<path d="M313.67 367.90 L315.67 371.40 L311.67 371.40 Z" fill="#1bbf1b"/>
<path d="M328.91 367.90 L330.91 371.40 L326.91 371.40 Z" fill="#1bbf1b"/>
<path d="M344.15 367.90 L346.15 371.40 L342.15 371.40 Z" fill="#1bbf1b"/>
<path d="M359.39 367.90 L361.39 371.40 L357.39 371.40 Z" fill="#1bbf1b"/>
<path d="M374.63 367.90 L376.63 371.40 L372.63 371.40 Z" fill="#1bbf1b"/>
<path d="M389.87 367.90 L391.87 371.40 L387.87 371.40 Z" fill="#1bbf1b"/>
<rect x="263.22" y="368.22" width="3.36" height="3.36" fill="#ff0000"/>
<rect x="266.27" y="368.22" width="3.36" height="3.36" fill="#ff0000"/>
<rect x="278.46" y="368.22" width="3.36" height="3.36" fill="#ff0000"/>
<rect x="293.70" y="368.22" width="3.36" height="3.36" fill="#ff0000"/>
<rect x="308.94" y="368.22" width="3.36" height="3.36" fill="#ff0000"/>
<rect x="324.18" y="368.22" width="3.36" height="3.36" fill="#ff0000"/>
<rect x="327.23" y="368.22" width="3.36" height="3.36" fill="#ff0000"/>
<rect x="339.42" y="368.22" width="3.36" height="3.36" fill="#ff0000"/>
<rect x="342.47" y="368.22" width="3.36" height="3.36" fill="#ff0000"/>
<rect x="354.66" y="368.22" width="3.36" height="3.36" fill="#ff0000"/>
<rect x="357.71" y="368.22" width="3.36" height="3.36" fill="#ff0000"/>
<rect x="369.90" y="368.22" width="3.36" height="3.36" fill="#ff0000"/>
<rect x="372.95" y="368.22" width="3.36" height="3.36" fill="#ff0000"/>
<rect x="385.14" y="368.22" width="3.36" height="3.36" fill="#ff0000"/>
<rect x="388.19" y="368.22" width="3.36" height="3.36" fill="#ff0000"/>
<circle cx="264.90" cy="369.90" r="2.18" fill="#0000ff"/>
<circle cx="268.71" cy="369.90" r="2.18" fill="#0000ff"/>
<circle cx="280.14" cy="369.90" r="2.18" fill="#0000ff"/>
<circle cx="295.38" cy="369.90" r="2.18" fill="#0000ff"/>
<circle cx="325.86" cy="369.90" r="2.18" fill="#0000ff"/>
<circle cx="329.67" cy="369.90" r="2.18" fill="#0000ff"/>
<circle cx="341.10" cy="369.90" r="2.18" fill="#0000ff"/>
<circle cx="344.91" cy="369.90" r="2.18" fill="#0000ff"/>
<circle cx="356.34" cy="369.90" r="2.18" fill="#0000ff"/>
<circle cx="360.15" cy="369.90" r="2.18" fill="#0000ff"/>
<circle cx="371.58" cy="369.90" r="2.18" fill="#0000ff"/>
<circle cx="375.39" cy="369.90" r="2.18" fill="#0000ff"/>
<circle cx="386.82" cy="369.90" r="2.18" fill="#0000ff"/>
<circle cx="390.63" cy="369.90" r="2.18" fill="#0000ff"/>
<circle cx="310.62" cy="369.90" r="2.18" fill="#0000ff"/>
<circle cx="280.10" cy="277.70" r="2.42" fill="#0000ff"/>
<rect x="277.90" y="294.80" width="4.41" height="4.41" fill="#ff0000"/>
<rect x="293.19" y="314.10" width="4.41" height="4.41" fill="#ff0000"/>
<circle cx="295.40" cy="326.70" r="2.42" fill="#0000ff"/>
<rect x="308.50" y="358.60" width="4.41" height="4.41" fill="#ff0000"/>
<circle cx="313.40" cy="364.50" r="2.42" fill="#0000ff"/>
<text x="302.40" y="393.90" font-size="8.5" font-weight="bold" text-anchor="start" font-family='"Liberation Sans", Arial, sans-serif' fill="#1a1a1a" stroke="#1a1a1a" stroke-width="0.25" textLength="77.0" lengthAdjust="spacingAndGlyphs">Days post infection</text>
<text x="0.00" y="0.00" font-size="8.4" font-weight="bold" text-anchor="middle" font-family='"Liberation Sans", Arial, sans-serif' fill="#1a1a1a" stroke="#1a1a1a" stroke-width="0.25" transform="translate(243.1,318.3) rotate(-90)" textLength="64.2" lengthAdjust="spacingAndGlyphs">Viremia [pfu/ml]</text>
<circle cx="367.60" cy="271.60" r="2.30" fill="#0000ff"/>
<text x="380.00" y="274.20" font-size="8.4" font-weight="normal" text-anchor="start" font-family='"Liberation Sans", Arial, sans-serif' fill="#1a1a1a" stroke="#1a1a1a" stroke-width="0.28" >High-dose</text>
<rect x="365.50" y="282.80" width="4.20" height="4.20" fill="#ff0000"/>
<text x="380.00" y="287.50" font-size="8.4" font-weight="normal" text-anchor="start" font-family='"Liberation Sans", Arial, sans-serif' fill="#1a1a1a" stroke="#1a1a1a" stroke-width="0.28" >Low-dose</text>
<path d="M367.60 295.70 L370.10 300.08 L365.10 300.08 Z" fill="#1bbf1b"/>
<text x="380.00" y="300.80" font-size="8.4" font-weight="normal" text-anchor="start" font-family='"Liberation Sans", Arial, sans-serif' fill="#1a1a1a" stroke="#1a1a1a" stroke-width="0.28" >Control</text>
<text x="0" y="0" transform="translate(12.7,412.0) scale(0.95,1)" font-family='"Liberation Sans", Arial, sans-serif' font-size="23" fill="#000">D</text>
<line x1="50.1" y1="427.1" x2="50.1" y2="523.8" stroke="#4a4a4a" stroke-width="1.5"/>
<line x1="47.1" y1="427.32" x2="50.1" y2="427.32" stroke="#4a4a4a" stroke-width="1.1"/>
<text x="0" y="0" transform="translate(47.00,430.22) scale(0.9,1)" font-size="8.4" font-weight="bold" text-anchor="end" font-family='"Liberation Sans", Arial, sans-serif' fill="#1a1a1a" stroke="#1a1a1a" stroke-width="0.25" >80</text>
<line x1="47.1" y1="451.44" x2="50.1" y2="451.44" stroke="#4a4a4a" stroke-width="1.1"/>
<text x="0" y="0" transform="translate(47.00,454.34) scale(0.9,1)" font-size="8.4" font-weight="bold" text-anchor="end" font-family='"Liberation Sans", Arial, sans-serif' fill="#1a1a1a" stroke="#1a1a1a" stroke-width="0.25" >60</text>
<line x1="47.1" y1="475.56" x2="50.1" y2="475.56" stroke="#4a4a4a" stroke-width="1.1"/>
<text x="0" y="0" transform="translate(47.00,478.46) scale(0.9,1)" font-size="8.4" font-weight="bold" text-anchor="end" font-family='"Liberation Sans", Arial, sans-serif' fill="#1a1a1a" stroke="#1a1a1a" stroke-width="0.25" >40</text>
<line x1="47.1" y1="499.68" x2="50.1" y2="499.68" stroke="#4a4a4a" stroke-width="1.1"/>
<text x="0" y="0" transform="translate(47.00,502.58) scale(0.9,1)" font-size="8.4" font-weight="bold" text-anchor="end" font-family='"Liberation Sans", Arial, sans-serif' fill="#1a1a1a" stroke="#1a1a1a" stroke-width="0.25" >20</text>
<line x1="47.1" y1="523.80" x2="50.1" y2="523.80" stroke="#4a4a4a" stroke-width="1.1"/>
<text x="0" y="0" transform="translate(47.00,526.70) scale(0.9,1)" font-size="8.4" font-weight="bold" text-anchor="end" font-family='"Liberation Sans", Arial, sans-serif' fill="#1a1a1a" stroke="#1a1a1a" stroke-width="0.25" >0</text>
<line x1="50.1" y1="523.8" x2="193.4" y2="523.8" stroke="#333" stroke-width="1.3"/>
<line x1="50.10" y1="523.8" x2="50.10" y2="526.8" stroke="#333" stroke-width="1.1"/>
<text x="0" y="0" transform="translate(50.10,535.10) scale(0.9,1)" font-size="8.4" font-weight="bold" text-anchor="middle" font-family='"Liberation Sans", Arial, sans-serif' fill="#1a1a1a" stroke="#1a1a1a" stroke-width="0.25" >0</text>
<line x1="78.70" y1="523.8" x2="78.70" y2="526.8" stroke="#333" stroke-width="1.1"/>
<text x="0" y="0" transform="translate(78.70,535.10) scale(0.9,1)" font-size="8.4" font-weight="bold" text-anchor="middle" font-family='"Liberation Sans", Arial, sans-serif' fill="#1a1a1a" stroke="#1a1a1a" stroke-width="0.25" >5</text>
<line x1="107.30" y1="523.8" x2="107.30" y2="526.8" stroke="#333" stroke-width="1.1"/>
<text x="0" y="0" transform="translate(107.30,535.10) scale(0.9,1)" font-size="8.4" font-weight="bold" text-anchor="middle" font-family='"Liberation Sans", Arial, sans-serif' fill="#1a1a1a" stroke="#1a1a1a" stroke-width="0.25" >10</text>
<line x1="135.90" y1="523.8" x2="135.90" y2="526.8" stroke="#333" stroke-width="1.1"/>
<text x="0" y="0" transform="translate(135.90,535.10) scale(0.9,1)" font-size="8.4" font-weight="bold" text-anchor="middle" font-family='"Liberation Sans", Arial, sans-serif' fill="#1a1a1a" stroke="#1a1a1a" stroke-width="0.25" >15</text>
<line x1="164.50" y1="523.8" x2="164.50" y2="526.8" stroke="#333" stroke-width="1.1"/>
<text x="0" y="0" transform="translate(164.50,535.10) scale(0.9,1)" font-size="8.4" font-weight="bold" text-anchor="middle" font-family='"Liberation Sans", Arial, sans-serif' fill="#1a1a1a" stroke="#1a1a1a" stroke-width="0.25" >20</text>
<line x1="193.10" y1="523.8" x2="193.10" y2="526.8" stroke="#333" stroke-width="1.1"/>
<text x="0" y="0" transform="translate(193.10,535.10) scale(0.9,1)" font-size="8.4" font-weight="bold" text-anchor="middle" font-family='"Liberation Sans", Arial, sans-serif' fill="#1a1a1a" stroke="#1a1a1a" stroke-width="0.25" >25</text>
<line x1="50.1" y1="488.10" x2="194" y2="488.10" stroke="#222" stroke-width="1.1" stroke-dasharray="3,2.2"/>
<line x1="50.1" y1="509.57" x2="194" y2="509.57" stroke="#222" stroke-width="1.1" stroke-dasharray="3,2.2"/>
<polyline points="50.10,486.41 55.82,477.61 61.54,475.56 67.26,476.40 72.98,472.79 78.70,475.32 84.42,473.39 90.14,472.79 95.86,473.15 107.30,472.79 118.74,470.01 130.18,458.80 170.22,471.70" fill="none" stroke="#1bbf1b" stroke-width="1.1" stroke-linejoin="round"/>
<polyline points="50.10,497.87 55.82,505.71 61.54,479.42 67.26,495.46 72.98,495.46 78.70,501.37 84.42,479.42 90.14,461.21 95.86,478.45 107.30,491.24 118.74,488.10 130.18,477.25 170.22,474.60" fill="none" stroke="#ff0000" stroke-width="1.1" stroke-linejoin="round"/>
<polyline points="50.10,499.32 55.82,504.14 61.54,498.47 67.26,509.93 72.98,490.63 78.70,491.48 84.42,499.68 90.14,493.65 95.86,486.41 107.30,495.34 118.74,493.05 130.18,469.41 170.22,491.96" fill="none" stroke="#0000ff" stroke-width="1.1" stroke-linejoin="round"/>
<path d="M50.10 473.07 L52.35 477.01 L47.85 477.01 Z" fill="#1bbf1b"/>
<path d="M50.10 496.83 L52.35 500.76 L47.85 500.76 Z" fill="#1bbf1b"/>
<path d="M55.82 467.88 L58.07 471.82 L53.57 471.82 Z" fill="#1bbf1b"/>
<path d="M55.82 482.96 L58.07 486.90 L53.57 486.90 Z" fill="#1bbf1b"/>
<path d="M61.54 472.10 L63.79 476.04 L59.29 476.04 Z" fill="#1bbf1b"/>
<path d="M61.54 471.50 L63.79 475.44 L59.29 475.44 Z" fill="#1bbf1b"/>
<path d="M67.26 473.07 L69.51 477.01 L65.01 477.01 Z" fill="#1bbf1b"/>
<path d="M67.26 473.91 L69.51 477.85 L65.01 477.85 Z" fill="#1bbf1b"/>
<path d="M72.98 468.85 L75.23 472.79 L70.73 472.79 Z" fill="#1bbf1b"/>
<path d="M72.98 472.71 L75.23 476.64 L70.73 476.64 Z" fill="#1bbf1b"/>
<path d="M78.70 468.85 L80.95 472.79 L76.45 472.79 Z" fill="#1bbf1b"/>
<path d="M78.70 477.89 L80.95 481.83 L76.45 481.83 Z" fill="#1bbf1b"/>
<path d="M84.42 477.89 L86.67 481.83 L82.17 481.83 Z" fill="#1bbf1b"/>
<path d="M84.42 469.69 L86.67 473.63 L82.17 473.63 Z" fill="#1bbf1b"/>
<path d="M90.14 468.85 L92.39 472.79 L87.89 472.79 Z" fill="#1bbf1b"/>
<path d="M90.14 474.76 L92.39 478.69 L87.89 478.69 Z" fill="#1bbf1b"/>
<path d="M95.86 469.69 L98.11 473.63 L93.61 473.63 Z" fill="#1bbf1b"/>
<path d="M95.86 472.10 L98.11 476.04 L93.61 476.04 Z" fill="#1bbf1b"/>
<path d="M107.30 466.07 L109.55 470.01 L105.05 470.01 Z" fill="#1bbf1b"/>
<path d="M107.30 476.08 L109.55 480.02 L105.05 480.02 Z" fill="#1bbf1b"/>
<path d="M118.74 461.97 L120.99 465.91 L116.49 465.91 Z" fill="#1bbf1b"/>
<path d="M118.74 472.83 L120.99 476.77 L116.49 476.77 Z" fill="#1bbf1b"/>
<path d="M130.18 450.64 L132.43 454.57 L127.93 454.57 Z" fill="#1bbf1b"/>
<path d="M130.18 469.69 L132.43 473.63 L127.93 473.63 Z" fill="#1bbf1b"/>
<path d="M170.22 474.52 L172.47 478.45 L167.97 478.45 Z" fill="#1bbf1b"/>
<path d="M170.22 475.72 L172.47 479.66 L167.97 479.66 Z" fill="#1bbf1b"/>
<rect x="48.21" y="499.24" width="3.78" height="3.78" fill="#ff0000"/>
<rect x="48.21" y="494.17" width="3.78" height="3.78" fill="#ff0000"/>
<rect x="53.93" y="502.61" width="3.78" height="3.78" fill="#ff0000"/>
<rect x="53.93" y="505.27" width="3.78" height="3.78" fill="#ff0000"/>
<rect x="59.65" y="468.24" width="3.78" height="3.78" fill="#ff0000"/>
<rect x="59.65" y="484.40" width="3.78" height="3.78" fill="#ff0000"/>
<rect x="65.37" y="482.59" width="3.78" height="3.78" fill="#ff0000"/>
<rect x="65.37" y="504.06" width="3.78" height="3.78" fill="#ff0000"/>
<rect x="71.09" y="487.30" width="3.78" height="3.78" fill="#ff0000"/>
<rect x="71.09" y="499.48" width="3.78" height="3.78" fill="#ff0000"/>
<rect x="76.81" y="499.48" width="3.78" height="3.78" fill="#ff0000"/>
<rect x="76.81" y="497.79" width="3.78" height="3.78" fill="#ff0000"/>
<rect x="82.53" y="465.83" width="3.78" height="3.78" fill="#ff0000"/>
<rect x="82.53" y="485.25" width="3.78" height="3.78" fill="#ff0000"/>
<rect x="88.25" y="435.32" width="3.78" height="3.78" fill="#ff0000"/>
<rect x="88.25" y="483.92" width="3.78" height="3.78" fill="#ff0000"/>
<rect x="93.97" y="469.21" width="3.78" height="3.78" fill="#ff0000"/>
<rect x="93.97" y="482.59" width="3.78" height="3.78" fill="#ff0000"/>
<rect x="105.41" y="482.84" width="3.78" height="3.78" fill="#ff0000"/>
<rect x="105.41" y="496.83" width="3.78" height="3.78" fill="#ff0000"/>
<rect x="116.85" y="478.13" width="3.78" height="3.78" fill="#ff0000"/>
<rect x="116.85" y="495.74" width="3.78" height="3.78" fill="#ff0000"/>
<rect x="128.29" y="469.09" width="3.78" height="3.78" fill="#ff0000"/>
<rect x="128.29" y="481.51" width="3.78" height="3.78" fill="#ff0000"/>
<rect x="168.33" y="465.23" width="3.78" height="3.78" fill="#ff0000"/>
<rect x="168.33" y="479.10" width="3.78" height="3.78" fill="#ff0000"/>
<circle cx="50.10" cy="493.77" r="2.07" fill="#0000ff"/>
<circle cx="50.10" cy="499.32" r="2.07" fill="#0000ff"/>
<circle cx="55.82" cy="501.13" r="2.07" fill="#0000ff"/>
<circle cx="55.82" cy="510.05" r="2.07" fill="#0000ff"/>
<circle cx="61.54" cy="490.63" r="2.07" fill="#0000ff"/>
<circle cx="61.54" cy="506.55" r="2.07" fill="#0000ff"/>
<circle cx="67.26" cy="510.05" r="2.07" fill="#0000ff"/>
<circle cx="67.26" cy="517.53" r="2.07" fill="#0000ff"/>
<circle cx="72.98" cy="475.32" r="2.07" fill="#0000ff"/>
<circle cx="72.98" cy="506.19" r="2.07" fill="#0000ff"/>
<circle cx="78.70" cy="500.16" r="2.07" fill="#0000ff"/>
<circle cx="78.70" cy="484.00" r="2.07" fill="#0000ff"/>
<circle cx="84.42" cy="493.77" r="2.07" fill="#0000ff"/>
<circle cx="84.42" cy="505.95" r="2.07" fill="#0000ff"/>
<circle cx="90.14" cy="480.63" r="2.07" fill="#0000ff"/>
<circle cx="90.14" cy="510.05" r="2.07" fill="#0000ff"/>
<circle cx="95.86" cy="474.11" r="2.07" fill="#0000ff"/>
<circle cx="95.86" cy="498.47" r="2.07" fill="#0000ff"/>
<circle cx="107.30" cy="488.10" r="2.07" fill="#0000ff"/>
<circle cx="107.30" cy="504.38" r="2.07" fill="#0000ff"/>
<circle cx="118.74" cy="485.81" r="2.07" fill="#0000ff"/>
<circle cx="118.74" cy="501.01" r="2.07" fill="#0000ff"/>
<circle cx="130.18" cy="465.91" r="2.07" fill="#0000ff"/>
<circle cx="130.18" cy="469.53" r="2.07" fill="#0000ff"/>
<circle cx="170.22" cy="481.83" r="2.07" fill="#0000ff"/>
<circle cx="170.22" cy="503.30" r="2.07" fill="#0000ff"/>
<text x="84.70" y="545.40" font-size="8.3" font-weight="bold" text-anchor="start" font-family='"Liberation Sans", Arial, sans-serif' fill="#1a1a1a" stroke="#1a1a1a" stroke-width="0.25" textLength="73.2" lengthAdjust="spacingAndGlyphs">Days post infection</text>
<text x="0.00" y="0.00" font-size="8.1" font-weight="bold" text-anchor="middle" font-family='"Liberation Sans", Arial, sans-serif' fill="#1a1a1a" stroke="#1a1a1a" stroke-width="0.25" transform="translate(34.1,475.5) rotate(-90)" textLength="64.0" lengthAdjust="spacingAndGlyphs">Lymphocytes [%]</text>
<line x1="139.40" y1="426.10" x2="150.40" y2="426.10" stroke="#0000ff" stroke-width="1.2"/>
<circle cx="144.90" cy="426.10" r="1.95" fill="#0000ff"/>
<text x="156.00" y="428.70" font-size="7.8" font-weight="normal" text-anchor="start" font-family='"Liberation Sans", Arial, sans-serif' fill="#1a1a1a" stroke="#1a1a1a" stroke-width="0.28" >High-dose</text>
<line x1="139.40" y1="436.90" x2="150.40" y2="436.90" stroke="#ff0000" stroke-width="1.2"/>
<rect x="143.12" y="435.12" width="3.57" height="3.57" fill="#ff0000"/>
<text x="156.00" y="439.50" font-size="7.8" font-weight="normal" text-anchor="start" font-family='"Liberation Sans", Arial, sans-serif' fill="#1a1a1a" stroke="#1a1a1a" stroke-width="0.28" >Low-dose</text>
<line x1="139.40" y1="447.70" x2="150.40" y2="447.70" stroke="#1bbf1b" stroke-width="1.2"/>
<path d="M144.90 445.58 L147.03 449.29 L142.78 449.29 Z" fill="#1bbf1b"/>
<text x="156.00" y="450.30" font-size="7.8" font-weight="normal" text-anchor="start" font-family='"Liberation Sans", Arial, sans-serif' fill="#1a1a1a" stroke="#1a1a1a" stroke-width="0.28" >Control</text>
<text x="0" y="0" transform="translate(226.7,412.0) scale(0.69,1)" font-family='"Liberation Sans", Arial, sans-serif' font-size="23" fill="#000">E</text>
<line x1="267.2" y1="426.6" x2="267.2" y2="522.4" stroke="#777" stroke-width="1.6"/>
<line x1="264.2" y1="426.40" x2="267.2" y2="426.40" stroke="#777" stroke-width="1.1"/>
<text x="0" y="0" transform="translate(263.70,429.30) scale(0.9,1)" font-size="8.4" font-weight="bold" text-anchor="end" font-family='"Liberation Sans", Arial, sans-serif' fill="#1a1a1a" stroke="#1a1a1a" stroke-width="0.25" >10</text>
<line x1="264.2" y1="445.60" x2="267.2" y2="445.60" stroke="#777" stroke-width="1.1"/>
<text x="0" y="0" transform="translate(263.70,448.50) scale(0.9,1)" font-size="8.4" font-weight="bold" text-anchor="end" font-family='"Liberation Sans", Arial, sans-serif' fill="#1a1a1a" stroke="#1a1a1a" stroke-width="0.25" >8</text>
<line x1="264.2" y1="464.80" x2="267.2" y2="464.80" stroke="#777" stroke-width="1.1"/>
<text x="0" y="0" transform="translate(263.70,467.70) scale(0.9,1)" font-size="8.4" font-weight="bold" text-anchor="end" font-family='"Liberation Sans", Arial, sans-serif' fill="#1a1a1a" stroke="#1a1a1a" stroke-width="0.25" >6</text>
<line x1="264.2" y1="484.00" x2="267.2" y2="484.00" stroke="#777" stroke-width="1.1"/>
<text x="0" y="0" transform="translate(263.70,486.90) scale(0.9,1)" font-size="8.4" font-weight="bold" text-anchor="end" font-family='"Liberation Sans", Arial, sans-serif' fill="#1a1a1a" stroke="#1a1a1a" stroke-width="0.25" >4</text>
<line x1="264.2" y1="503.20" x2="267.2" y2="503.20" stroke="#777" stroke-width="1.1"/>
<text x="0" y="0" transform="translate(263.70,506.10) scale(0.9,1)" font-size="8.4" font-weight="bold" text-anchor="end" font-family='"Liberation Sans", Arial, sans-serif' fill="#1a1a1a" stroke="#1a1a1a" stroke-width="0.25" >2</text>
<line x1="264.2" y1="522.40" x2="267.2" y2="522.40" stroke="#777" stroke-width="1.1"/>
<text x="0" y="0" transform="translate(263.70,525.30) scale(0.9,1)" font-size="8.4" font-weight="bold" text-anchor="end" font-family='"Liberation Sans", Arial, sans-serif' fill="#1a1a1a" stroke="#1a1a1a" stroke-width="0.25" >0</text>
<line x1="267.2" y1="522.4" x2="410" y2="522.4" stroke="#333" stroke-width="1.3"/>
<line x1="267.20" y1="522.4" x2="267.20" y2="525.4" stroke="#333" stroke-width="1.1"/>
<text x="0" y="0" transform="translate(267.20,533.60) scale(0.9,1)" font-size="8.4" font-weight="bold" text-anchor="middle" font-family='"Liberation Sans", Arial, sans-serif' fill="#1a1a1a" stroke="#1a1a1a" stroke-width="0.25" >0</text>
<line x1="295.70" y1="522.4" x2="295.70" y2="525.4" stroke="#333" stroke-width="1.1"/>
<text x="0" y="0" transform="translate(295.70,533.60) scale(0.9,1)" font-size="8.4" font-weight="bold" text-anchor="middle" font-family='"Liberation Sans", Arial, sans-serif' fill="#1a1a1a" stroke="#1a1a1a" stroke-width="0.25" >5</text>
<line x1="324.20" y1="522.4" x2="324.20" y2="525.4" stroke="#333" stroke-width="1.1"/>
<text x="0" y="0" transform="translate(324.20,533.60) scale(0.9,1)" font-size="8.4" font-weight="bold" text-anchor="middle" font-family='"Liberation Sans", Arial, sans-serif' fill="#1a1a1a" stroke="#1a1a1a" stroke-width="0.25" >10</text>
<line x1="352.70" y1="522.4" x2="352.70" y2="525.4" stroke="#333" stroke-width="1.1"/>
<text x="0" y="0" transform="translate(352.70,533.60) scale(0.9,1)" font-size="8.4" font-weight="bold" text-anchor="middle" font-family='"Liberation Sans", Arial, sans-serif' fill="#1a1a1a" stroke="#1a1a1a" stroke-width="0.25" >15</text>
<line x1="381.20" y1="522.4" x2="381.20" y2="525.4" stroke="#333" stroke-width="1.1"/>
<text x="0" y="0" transform="translate(381.20,533.60) scale(0.9,1)" font-size="8.4" font-weight="bold" text-anchor="middle" font-family='"Liberation Sans", Arial, sans-serif' fill="#1a1a1a" stroke="#1a1a1a" stroke-width="0.25" >20</text>
<line x1="409.70" y1="522.4" x2="409.70" y2="525.4" stroke="#333" stroke-width="1.1"/>
<text x="0" y="0" transform="translate(409.70,533.60) scale(0.9,1)" font-size="8.4" font-weight="bold" text-anchor="middle" font-family='"Liberation Sans", Arial, sans-serif' fill="#1a1a1a" stroke="#1a1a1a" stroke-width="0.25" >25</text>
<line x1="267.2" y1="476.32" x2="410" y2="476.32" stroke="#222" stroke-width="1.1" stroke-dasharray="3,2.2"/>
<line x1="267.2" y1="513.09" x2="410" y2="513.09" stroke="#222" stroke-width="1.1" stroke-dasharray="3,2.2"/>
<polyline points="267.20,487.36 272.90,474.40 278.60,472.96 284.30,473.92 290.00,471.04 295.70,473.44 301.40,472.00 307.10,473.92 312.80,476.32 324.20,474.88 335.60,469.12 347.00,465.28 386.90,478.24" fill="none" stroke="#1bbf1b" stroke-width="1.1" stroke-linejoin="round"/>
<polyline points="267.20,496.48 272.90,498.40 278.60,489.76 284.30,493.60 290.00,501.76 295.70,498.40 301.40,493.60 307.10,472.48 312.80,495.04 324.20,497.44 335.60,488.80 347.00,481.60 386.90,480.16" fill="none" stroke="#ff0000" stroke-width="1.1" stroke-linejoin="round"/>
<polyline points="267.20,498.40 272.90,508.00 278.60,501.76 284.30,510.88 290.00,501.28 295.70,501.28 301.40,501.28 307.10,501.28 312.80,491.68 324.20,498.88 335.60,486.40 347.00,474.40 386.90,492.64" fill="none" stroke="#0000ff" stroke-width="1.1" stroke-linejoin="round"/>
<path d="M267.20 475.99 L269.45 479.93 L264.95 479.93 Z" fill="#1bbf1b"/>
<path d="M267.20 480.79 L269.45 484.73 L264.95 484.73 Z" fill="#1bbf1b"/>
<path d="M272.90 467.35 L275.15 471.29 L270.65 471.29 Z" fill="#1bbf1b"/>
<path d="M272.90 476.47 L275.15 480.41 L270.65 480.41 Z" fill="#1bbf1b"/>
<path d="M278.60 468.31 L280.85 472.25 L276.35 472.25 Z" fill="#1bbf1b"/>
<path d="M278.60 471.19 L280.85 475.13 L276.35 475.13 Z" fill="#1bbf1b"/>
<path d="M284.30 467.83 L286.55 471.77 L282.05 471.77 Z" fill="#1bbf1b"/>
<path d="M284.30 476.95 L286.55 480.89 L282.05 480.89 Z" fill="#1bbf1b"/>
<path d="M290.00 462.55 L292.25 466.49 L287.75 466.49 Z" fill="#1bbf1b"/>
<path d="M290.00 475.03 L292.25 478.97 L287.75 478.97 Z" fill="#1bbf1b"/>
<path d="M295.70 471.19 L297.95 475.13 L293.45 475.13 Z" fill="#1bbf1b"/>
<path d="M295.70 473.11 L297.95 477.05 L293.45 477.05 Z" fill="#1bbf1b"/>
<path d="M301.40 466.39 L303.65 470.33 L299.15 470.33 Z" fill="#1bbf1b"/>
<path d="M301.40 475.03 L303.65 478.97 L299.15 478.97 Z" fill="#1bbf1b"/>
<path d="M307.10 470.23 L309.35 474.17 L304.85 474.17 Z" fill="#1bbf1b"/>
<path d="M307.10 474.07 L309.35 478.01 L304.85 478.01 Z" fill="#1bbf1b"/>
<path d="M312.80 470.23 L315.05 474.17 L310.55 474.17 Z" fill="#1bbf1b"/>
<path d="M312.80 479.83 L315.05 483.77 L310.55 483.77 Z" fill="#1bbf1b"/>
<path d="M324.20 472.63 L326.45 476.57 L321.95 476.57 Z" fill="#1bbf1b"/>
<path d="M324.20 474.07 L326.45 478.01 L321.95 478.01 Z" fill="#1bbf1b"/>
<path d="M335.60 466.39 L337.85 470.33 L333.35 470.33 Z" fill="#1bbf1b"/>
<path d="M335.60 469.27 L337.85 473.21 L333.35 473.21 Z" fill="#1bbf1b"/>
<path d="M347.00 456.79 L349.25 460.73 L344.75 460.73 Z" fill="#1bbf1b"/>
<path d="M347.00 472.15 L349.25 476.09 L344.75 476.09 Z" fill="#1bbf1b"/>
<path d="M386.90 476.95 L389.15 480.89 L384.65 480.89 Z" fill="#1bbf1b"/>
<path d="M386.90 475.99 L389.15 479.93 L384.65 479.93 Z" fill="#1bbf1b"/>
<rect x="265.31" y="499.39" width="3.78" height="3.78" fill="#ff0000"/>
<rect x="265.31" y="498.43" width="3.78" height="3.78" fill="#ff0000"/>
<rect x="271.01" y="497.47" width="3.78" height="3.78" fill="#ff0000"/>
<rect x="271.01" y="497.47" width="3.78" height="3.78" fill="#ff0000"/>
<rect x="276.71" y="481.15" width="3.78" height="3.78" fill="#ff0000"/>
<rect x="276.71" y="494.59" width="3.78" height="3.78" fill="#ff0000"/>
<rect x="282.41" y="488.83" width="3.78" height="3.78" fill="#ff0000"/>
<rect x="282.41" y="496.51" width="3.78" height="3.78" fill="#ff0000"/>
<rect x="288.11" y="498.43" width="3.78" height="3.78" fill="#ff0000"/>
<rect x="288.11" y="501.31" width="3.78" height="3.78" fill="#ff0000"/>
<rect x="293.81" y="488.83" width="3.78" height="3.78" fill="#ff0000"/>
<rect x="293.81" y="507.07" width="3.78" height="3.78" fill="#ff0000"/>
<rect x="299.51" y="485.95" width="3.78" height="3.78" fill="#ff0000"/>
<rect x="299.51" y="494.59" width="3.78" height="3.78" fill="#ff0000"/>
<rect x="305.21" y="444.67" width="3.78" height="3.78" fill="#ff0000"/>
<rect x="305.21" y="495.55" width="3.78" height="3.78" fill="#ff0000"/>
<rect x="310.91" y="493.63" width="3.78" height="3.78" fill="#ff0000"/>
<rect x="310.91" y="493.63" width="3.78" height="3.78" fill="#ff0000"/>
<rect x="322.31" y="493.92" width="3.78" height="3.78" fill="#ff0000"/>
<rect x="322.31" y="497.09" width="3.78" height="3.78" fill="#ff0000"/>
<rect x="333.71" y="479.23" width="3.78" height="3.78" fill="#ff0000"/>
<rect x="333.71" y="495.55" width="3.78" height="3.78" fill="#ff0000"/>
<rect x="345.11" y="474.43" width="3.78" height="3.78" fill="#ff0000"/>
<rect x="345.11" y="484.03" width="3.78" height="3.78" fill="#ff0000"/>
<rect x="385.01" y="475.39" width="3.78" height="3.78" fill="#ff0000"/>
<rect x="385.01" y="480.19" width="3.78" height="3.78" fill="#ff0000"/>
<circle cx="267.20" cy="493.60" r="2.07" fill="#0000ff"/>
<circle cx="267.20" cy="498.40" r="2.07" fill="#0000ff"/>
<circle cx="272.90" cy="508.00" r="2.07" fill="#0000ff"/>
<circle cx="272.90" cy="509.92" r="2.07" fill="#0000ff"/>
<circle cx="278.60" cy="499.36" r="2.07" fill="#0000ff"/>
<circle cx="278.60" cy="504.16" r="2.07" fill="#0000ff"/>
<circle cx="284.30" cy="511.84" r="2.07" fill="#0000ff"/>
<circle cx="284.30" cy="511.84" r="2.07" fill="#0000ff"/>
<circle cx="290.00" cy="496.48" r="2.07" fill="#0000ff"/>
<circle cx="290.00" cy="507.04" r="2.07" fill="#0000ff"/>
<circle cx="295.70" cy="499.36" r="2.07" fill="#0000ff"/>
<circle cx="295.70" cy="503.20" r="2.07" fill="#0000ff"/>
<circle cx="301.40" cy="499.36" r="2.07" fill="#0000ff"/>
<circle cx="301.40" cy="501.28" r="2.07" fill="#0000ff"/>
<circle cx="307.10" cy="496.48" r="2.07" fill="#0000ff"/>
<circle cx="307.10" cy="509.92" r="2.07" fill="#0000ff"/>
<circle cx="312.80" cy="481.12" r="2.07" fill="#0000ff"/>
<circle cx="312.80" cy="502.24" r="2.07" fill="#0000ff"/>
<circle cx="324.20" cy="489.76" r="2.07" fill="#0000ff"/>
<circle cx="324.20" cy="508.00" r="2.07" fill="#0000ff"/>
<circle cx="335.60" cy="477.28" r="2.07" fill="#0000ff"/>
<circle cx="335.60" cy="496.48" r="2.07" fill="#0000ff"/>
<circle cx="347.00" cy="469.60" r="2.07" fill="#0000ff"/>
<circle cx="347.00" cy="475.36" r="2.07" fill="#0000ff"/>
<circle cx="386.90" cy="484.96" r="2.07" fill="#0000ff"/>
<circle cx="386.90" cy="500.32" r="2.07" fill="#0000ff"/>
<text x="301.90" y="545.40" font-size="8.3" font-weight="bold" text-anchor="start" font-family='"Liberation Sans", Arial, sans-serif' fill="#1a1a1a" stroke="#1a1a1a" stroke-width="0.25" textLength="72.8" lengthAdjust="spacingAndGlyphs">Days post infection</text>
<text x="0.00" y="0.00" font-size="8.2" font-weight="bold" text-anchor="middle" font-family='"Liberation Sans", Arial, sans-serif' fill="#1a1a1a" stroke="#1a1a1a" stroke-width="0.25" transform="translate(251.6,474.5) rotate(-90)" textLength="118.0" lengthAdjust="spacingAndGlyphs">Lymphocytes [number x 10<tspan font-size="5.2" dy="-3">3</tspan><tspan dy="3">/µl]</tspan></text>
<line x1="353.80" y1="424.00" x2="364.80" y2="424.00" stroke="#0000ff" stroke-width="1.2"/>
<circle cx="359.30" cy="424.00" r="1.95" fill="#0000ff"/>
<text x="370.20" y="426.60" font-size="7.8" font-weight="normal" text-anchor="start" font-family='"Liberation Sans", Arial, sans-serif' fill="#1a1a1a" stroke="#1a1a1a" stroke-width="0.28" >High-dose</text>
<line x1="353.80" y1="435.00" x2="364.80" y2="435.00" stroke="#ff0000" stroke-width="1.2"/>
<rect x="357.51" y="433.21" width="3.57" height="3.57" fill="#ff0000"/>
<text x="370.20" y="437.60" font-size="7.8" font-weight="normal" text-anchor="start" font-family='"Liberation Sans", Arial, sans-serif' fill="#1a1a1a" stroke="#1a1a1a" stroke-width="0.28" >Low-dose</text>
<line x1="353.80" y1="446.00" x2="364.80" y2="446.00" stroke="#1bbf1b" stroke-width="1.2"/>
<path d="M359.30 443.88 L361.43 447.59 L357.18 447.59 Z" fill="#1bbf1b"/>
<text x="370.20" y="448.60" font-size="7.8" font-weight="normal" text-anchor="start" font-family='"Liberation Sans", Arial, sans-serif' fill="#1a1a1a" stroke="#1a1a1a" stroke-width="0.28" >Control</text>
</svg>
</body></html>
